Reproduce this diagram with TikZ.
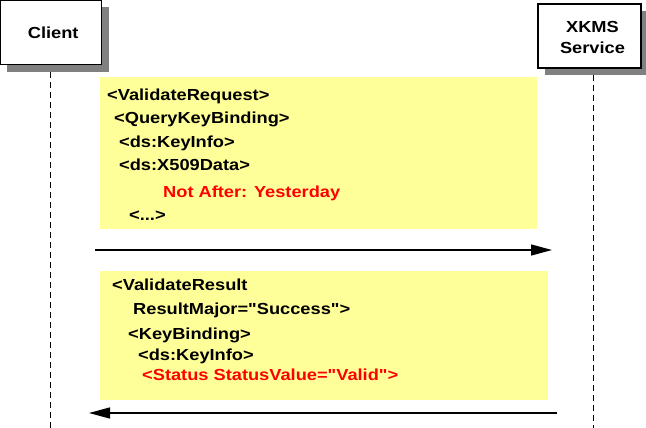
\documentclass[tikz,border=0pt]{standalone}
\usepackage{fontspec}
\setmainfont[FakeStretch=1.14,Ligatures=TeXOff]{Liberation Sans}
\usetikzlibrary{arrows.meta}
\definecolor{memofill}{HTML}{FFFF99}
\definecolor{shadegray}{HTML}{808080}
\definecolor{alertred}{HTML}{FF0000}
\tikzset{
  actor/.style={draw=black, line width=1.3pt, fill=white, inner sep=0pt, outer sep=0pt, align=center,
    font=\fontsize{16}{21}\selectfont\bfseries},
  actorlabel/.style={inner sep=0pt, align=center, font=\fontsize{16}{21}\selectfont\bfseries},
  shadowbox/.style={fill=shadegray, draw=none},
  lifeline/.style={line width=1pt, dash pattern=on 6pt off 4pt},
  msg/.style={line width=1.3pt, -{Triangle[length=21pt,width=11pt]}},
  memo/.style={fill=memofill, draw=none, inner sep=0pt, outer sep=0pt, anchor=north west},
  code/.style={anchor=base west, inner sep=0pt, font=\fontsize{16}{19}\selectfont\bfseries},
  codered/.style={code, text=alertred},
}
\begin{document}
\begin{tikzpicture}[x=1pt, y=-1pt]
\useasboundingbox (0,0) rectangle (646,428);
% shadows
\fill[shadowbox] (7,7) rectangle (109,72);
\fill[shadowbox] (545,11) rectangle (646,75);
% actors
\node[actor, minimum width=101pt, minimum height=64pt, anchor=north west] (client) at (0.7,0.7) {};
\node[actorlabel] (clientlbl) at ([xshift=2pt]client.center) {Client};
\node[actor, minimum width=103pt, minimum height=64pt, anchor=north west] (xkms) at (538,4) {};
\node[actorlabel] (xkmslbl) at ([xshift=3pt,yshift=-1pt]xkms.center) {XKMS\\Service};
% lifelines
\coordinate (cl0) at (50,72);
\coordinate (cl1) at (50,428);
\coordinate (xl0) at (593,75);
\coordinate (xl1) at (593,428);
\draw[lifeline] (cl0) -- (cl1);
\draw[lifeline] (xl0) -- (xl1);
% request memo
\node[memo, minimum width=437pt, minimum height=152pt] (req) at (100,77) {};
\node[code] (r1) at (107,100) {<ValidateRequest>};
\node[code] (r2) at (114,123.5) {<QueryKeyBinding>};
\node[code] (r3) at (119,147.5) {<ds:KeyInfo>};
\node[code] (r4) at (119,171) {<ds:X509Data>};
\node[codered] (r5) at (163,197.5) {Not After: Yesterday};
\node[code] (r6) at (129,220.5) {<...>};
% request arrow
\coordinate (m1s) at (95,250);
\coordinate (m1e) at (552,250);
\draw[msg] (m1s) -- (m1e);
% result memo
\node[memo, minimum width=448pt, minimum height=129pt] (res) at (100,271) {};
\node[code] (s1) at (112,290.5) {<ValidateResult};
\node[code] (s2) at (133,314) {ResultMajor="Success">};
\node[code] (s3) at (128,339) {<KeyBinding>};
\node[code] (s4) at (138,360) {<ds:KeyInfo>};
\node[codered] (s5) at (142,380.5) {<Status StatusValue="Valid">};
% result arrow
\coordinate (m2s) at (557,413);
\coordinate (m2e) at (89,413);
\draw[msg] (m2s) -- (m2e);
\end{tikzpicture}
\end{document}
